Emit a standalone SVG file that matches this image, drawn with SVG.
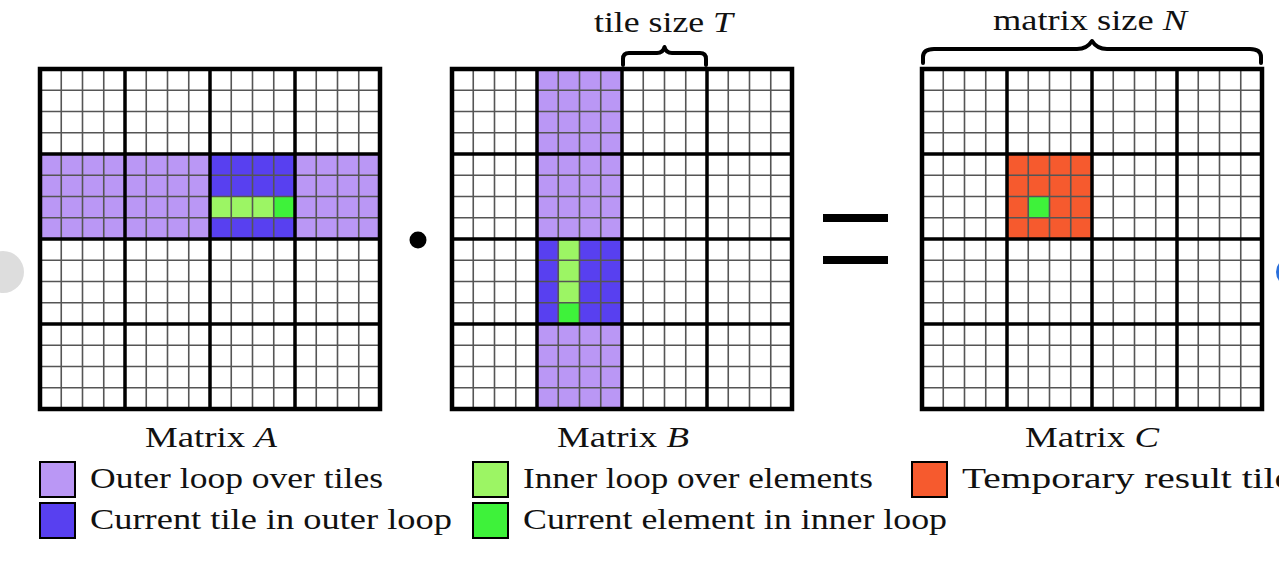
<svg xmlns="http://www.w3.org/2000/svg" xmlns:xlink="http://www.w3.org/1999/xlink" width="1279" height="566" viewBox="0 0 1279 566">
<style>
text{font-family:"Liberation Serif","DejaVu Serif",serif;font-size:29px;fill:#111}
.t{stroke:#555;stroke-width:1.6;fill:none}
.k{stroke:#000;stroke-width:3.5;fill:none}
.f{stroke:#000;stroke-width:4.5;fill:none}
.p{fill:#BA97F5}.b{fill:#5840F0}.lg{fill:#9CF564}.g{fill:#3EF23A}.o{fill:#F65A2E}
.br{stroke:#000;stroke-width:4;fill:none;stroke-linecap:round;stroke-linejoin:round}
</style>
<defs>
<g id="grid">
<path class="t" d="M21.25 0V340M42.5 0V340M63.75 0V340M106.25 0V340M127.5 0V340M148.75 0V340M191.25 0V340M212.5 0V340M233.75 0V340M276.25 0V340M297.5 0V340M318.75 0V340M0 21.25H340M0 42.5H340M0 63.75H340M0 106.25H340M0 127.5H340M0 148.75H340M0 191.25H340M0 212.5H340M0 233.75H340M0 276.25H340M0 297.5H340M0 318.75H340"/>
<path class="k" d="M85 0V340M170 0V340M255 0V340M0 85H340M0 170H340M0 255H340"/>
<rect class="f" x="0" y="0" width="340" height="340"/>
</g>
</defs>
<rect width="1279" height="566" fill="#fff"/>
<circle cx="3" cy="272" r="21" fill="#ddd"/>
<circle cx="1290" cy="272" r="14" fill="#2a6fdb"/>
<g id="matrixA" transform="translate(40,69)">
<rect class="p" x="0" y="85" width="340" height="85"/>
<rect class="b" x="170" y="85" width="85" height="85"/>
<rect class="lg" x="170" y="127.5" width="63.75" height="21.25"/>
<rect class="g" x="233.75" y="127.5" width="21.25" height="21.25"/>
<use xlink:href="#grid"/>
<text x="105" y="378" textLength="132" lengthAdjust="spacingAndGlyphs">Matrix <tspan font-style="italic">A</tspan></text>
</g>
<g id="dot"><circle cx="418" cy="240" r="8.5" fill="#000"/></g>
<g id="matrixB" transform="translate(452,69)">
<rect class="p" x="85" y="0" width="85" height="340"/>
<rect class="b" x="85" y="170" width="85" height="85"/>
<rect class="lg" x="106.25" y="170" width="21.25" height="63.75"/>
<rect class="g" x="106.25" y="233.75" width="21.25" height="21.25"/>
<use xlink:href="#grid"/>
<text x="105" y="378" textLength="132" lengthAdjust="spacingAndGlyphs">Matrix <tspan font-style="italic">B</tspan></text>
<path class="br" d="M171 -4V-10Q171 -16 177 -16H205Q211 -16 212.5 -22Q214 -16 220 -16H248Q254 -16 254 -10V-4"/>
<text x="142" y="-37" textLength="139" lengthAdjust="spacingAndGlyphs">tile size <tspan font-style="italic">T</tspan></text>
</g>
<g id="equals"><rect x="823" y="214" width="65" height="8" fill="#000"/><rect x="823" y="256" width="65" height="8" fill="#000"/></g>
<g id="matrixC" transform="translate(922,69)">
<rect class="o" x="85" y="85" width="85" height="85"/>
<rect class="g" x="106.25" y="127.5" width="21.25" height="21.25"/>
<use xlink:href="#grid"/>
<text x="103" y="378" textLength="134" lengthAdjust="spacingAndGlyphs">Matrix <tspan font-style="italic">C</tspan></text>
<path class="br" d="M1 -6V-12Q1 -20 12 -20H155Q165 -20 170 -28Q175 -20 185 -20H328Q339 -20 339 -12V-6"/>
<text x="71" y="-39" textLength="194" lengthAdjust="spacingAndGlyphs">matrix size <tspan font-style="italic">N</tspan></text>
</g>
<g id="legend" stroke="#000" stroke-width="2">
<rect class="p" x="40" y="462" width="35" height="35"/>
<rect class="b" x="40" y="503" width="35" height="35"/>
<rect class="lg" x="473" y="462" width="35" height="35"/>
<rect class="g" x="473" y="503" width="35" height="35"/>
<rect class="o" x="912" y="462" width="35" height="35"/>
</g>
<g id="legend-text">
<text x="90" y="488" textLength="293" lengthAdjust="spacingAndGlyphs">Outer loop over tiles</text>
<text x="90" y="529" textLength="362" lengthAdjust="spacingAndGlyphs">Current tile in outer loop</text>
<text x="523" y="488" textLength="350" lengthAdjust="spacingAndGlyphs">Inner loop over elements</text>
<text x="523" y="529" textLength="424" lengthAdjust="spacingAndGlyphs">Current element in inner loop</text>
<text x="962" y="488" textLength="330" lengthAdjust="spacingAndGlyphs">Temporary result tile</text>
</g>
</svg>
